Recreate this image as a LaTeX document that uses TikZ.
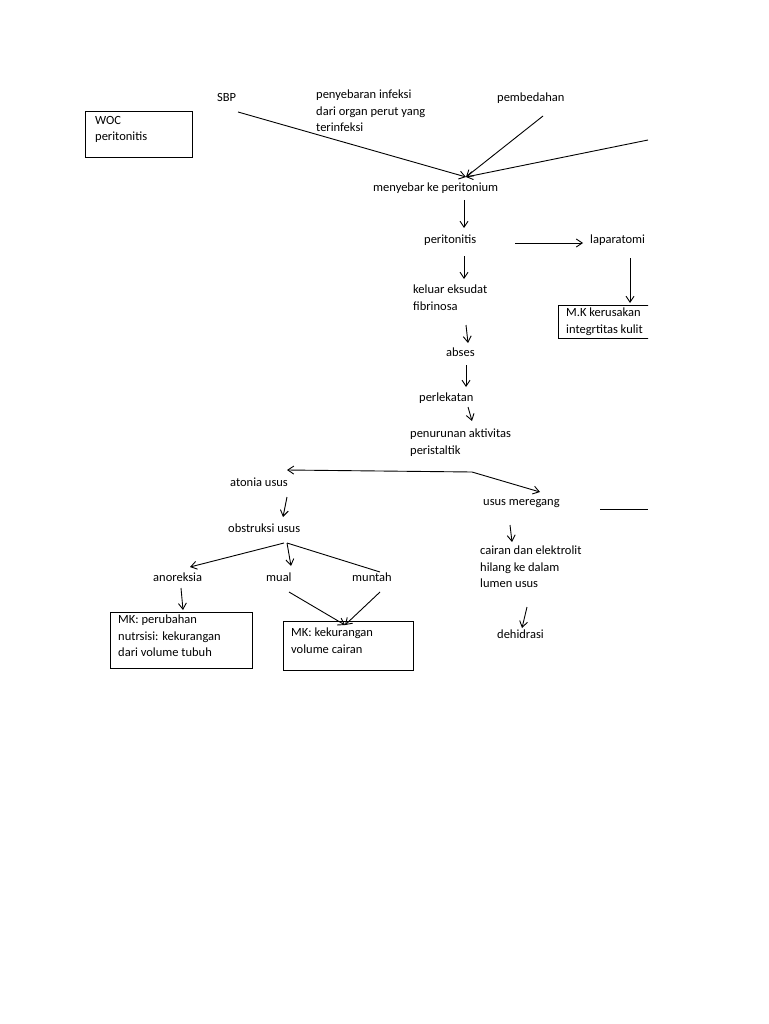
\documentclass[tikz,border=0pt]{standalone}
\usepackage{fontspec}
\setmainfont{Carlito}
\usetikzlibrary{arrows.meta}
\begin{document}
\begin{tikzpicture}[x=1pt,y=-1pt,
  t/.style={anchor=north west,inner sep=0pt,font=\fontsize{12.5}{16.5}\selectfont,align=left},
  a/.style={-{Straight Barb[length=6pt,width=8pt]},line width=0.9pt},
  l/.style={line width=0.9pt},
  box/.style={draw,line width=0.7pt}]
\useasboundingbox (0,0) rectangle (768,1024);
\fill[white] (0,0) rectangle (768,1024);
\begin{scope}
\clip (0,0) rectangle (648,1024);
\draw[box] (85,111) rectangle (192,157);
\node[t] (woc) at (95,116) {WOC\\peritonitis};
\node[t] (sbp) at (217,93) {SBP};
\node[t] (pen) at (316,90) {penyebaran infeksi\\dari organ perut yang\\terinfeksi};
\node[t] (pem) at (497,93) {pembedahan};
\coordinate (m) at (466,177);
\coordinate (sbpe) at (238,112);
\coordinate (peme) at (543,116);
\coordinate (re) at (648,140);
\draw[a] (sbpe) -- (m);
\draw[a] (peme) -- (m);
\draw[a] (re) -- (m);
\node[t] (meny) at (373,183) {menyebar ke peritonium};
\node[t] (per) at (424,235) {peritonitis};
\node[t] (lap) at (590,235) {laparatomi};
\draw[a] (464,200) -- (464,228);
\draw[a] (515,243) -- (583,243);
\draw[a] (464,256) -- (464,279);
\node[t] (kel) at (413,285) {keluar eksudat\\fibrinosa};
\draw[a] (630,258) -- (630,303);
\draw[box] (558,305) rectangle (670,338);
\node[t] (mk1) at (566,308) {M.K kerusakan\\integrtitas kulit};
\draw[a] (466,325) -- (468,343);
\node[t] (abs) at (446,348) {abses};
\draw[a] (466,365) -- (466,387);
\node[t] (perl) at (419,393) {perlekatan};
\draw[a] (468,407) -- (472,421);
\node[t] (penu) at (410,429) {penurunan aktivitas\\peristaltik};
\draw[{Straight Barb[length=6pt,width=8pt]}-{Straight Barb[length=6pt,width=8pt]},line width=0.9pt] (287,470) -- (472,472) -- (540,492);
\node[t] (ato) at (230,478) {atonia usus};
\draw[a] (287,497) -- (283,517);
\node[t] (obs) at (228,524) {obstruksi usus};
\draw[a] (284,543) -- (190,567);
\draw[a] (287,543) -- (291,566);
\draw[l] (287,543) -- (380,572);
\node[t] (ano) at (153,573) {anoreksia};
\node[t] (mual) at (266,573) {mual};
\node[t] (mun) at (352,573) {muntah};
\draw[a] (181,588) -- (183,610);
\draw[box] (110,612) rectangle (252,668);
\node[t] (mk2) at (118,615) {MK: perubahan\\nutrsisi: kekurangan\\dari volume tubuh};
\draw[a] (289,592) -- (345,625);
\draw[a] (380,592) -- (345,625);
\draw[box] (283,621) rectangle (413,670);
\node[t] (mk3) at (291,628) {MK: kekurangan\\volume cairan};
\node[t] (usm) at (483,499) {usus meregang};
\draw[l] (600,509) -- (648,509);
\draw[a] (510,525) -- (512,542);
\node[t] (cai) at (480,546) {cairan dan elektrolit\\hilang ke dalam\\lumen usus};
\draw[a] (527,607) -- (522,628);
\node[t] (deh) at (497,630) {dehidrasi};
\end{scope}
\end{tikzpicture}
\end{document}
